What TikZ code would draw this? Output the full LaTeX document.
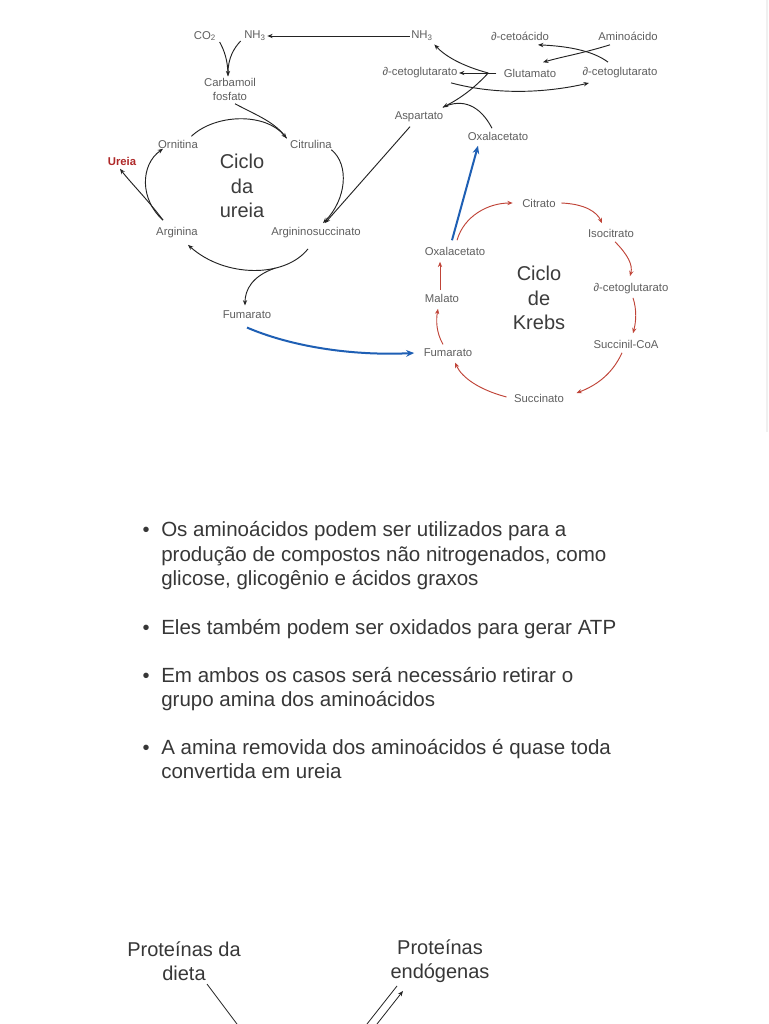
\documentclass[tikz,border=0pt]{standalone}
\usepackage{fontspec}
\setmainfont{Liberation Sans}
\usetikzlibrary{arrows.meta,calc}
\definecolor{lbl}{RGB}{95,95,95}
\definecolor{big}{RGB}{60,60,60}
\definecolor{txt}{RGB}{55,55,55}
\definecolor{krebsc}{RGB}{192,68,56}
\definecolor{blu}{RGB}{30,95,180}
\definecolor{ureac}{RGB}{175,40,40}
\definecolor{ln}{RGB}{35,35,35}
\begin{document}
\begin{tikzpicture}[x=0.75pt,y=-0.75pt,
 lab/.style={font=\fontsize{8.5}{10}\selectfont, text=lbl, inner sep=1pt},
 cyc/.style={font=\fontsize{15}{18.4}\selectfont, text=big, align=center, inner sep=0pt},
 blt/.style={font=\fontsize{15.4}{18}\selectfont, text=txt, anchor=base west, inner sep=0pt},
 bdot/.style={font=\fontsize{15}{18}\selectfont, text=txt, anchor=base, inner sep=0pt},
 bot/.style={font=\fontsize{15}{18.4}\selectfont, text=txt, align=center, inner sep=0pt},
 blk/.style={draw=ln, line width=0.7pt, -{Stealth[length=4pt,width=3.2pt]}},
 blkn/.style={draw=ln, line width=0.7pt},
 krarrow/.style={draw=krebsc, line width=0.7pt, -{Stealth[length=4pt,width=3.2pt]}},
 bluearrow/.style={draw=blu, line width=1.5pt, -{Stealth[length=6pt,width=5pt]}},
]
\fill[white] (0,0) rectangle (768,1024);
\useasboundingbox (0,0) rectangle (768,1024);
\draw[gray!12, line width=0.8pt] (767,0) -- (767,432);

% ---------- urea cycle labels ----------
\node[lab] (co2) at (205,36) {CO\textsubscript{2}};
\node[lab] (nh3l) at (255,36) {NH\textsubscript{3}};
\node[lab] (nh3r) at (422,36) {NH\textsubscript{3}};
\node[lab] (kac) at (520,36) {∂-cetoácido};
\node[lab] (amin) at (628,36) {Aminoácido};
\node[lab, align=center, font=\fontsize{8.5}{10.5}\selectfont] (carb) at (230,89) {Carbamoil\\fosfato};
\node[lab] (akgl) at (420,73) {∂-cetoglutarato};
\node[lab] (glu) at (530,73) {Glutamato};
\node[lab] (akgr) at (620,73) {∂-cetoglutarato};
\node[lab] (asp) at (419,117) {Aspartato};
\node[lab] (oxt) at (498,136) {Oxalacetato};
\node[lab] (orn) at (178,144) {Ornitina};
\node[lab] (cit) at (311,144) {Citrulina};
\node[lab, text=ureac, font={\fontsize{8.5}{10}\selectfont\bfseries}] (ure) at (122,161) {Ureia};
\node[cyc] (cu) at (242,186) {Ciclo\\da\\ureia};
\node[lab] (arg) at (177,233) {Arginina};
\node[lab] (args) at (316,233) {Argininosuccinato};
\node[lab] (fum1) at (247,315) {Fumarato};

% ---------- Krebs labels ----------
\node[lab] (citr) at (539,203) {Citrato};
\node[lab] (isoc) at (611,233) {Isocitrato};
\node[lab] (oxk) at (455,251) {Oxalacetato};
\node[cyc] (ck) at (539,298) {Ciclo\\de\\Krebs};
\node[lab] (akgk) at (631,289) {∂-cetoglutarato};
\node[lab] (mal) at (442,298) {Malato};
\node[lab] (sco) at (626,344) {Succinil-CoA};
\node[lab] (fumk) at (448,353) {Fumarato};
\node[lab] (succ) at (539,398) {Succinato};

% ---------- black connectors ----------
\draw[blk] (nh3r.west) -- (nh3l.east);
\draw[blkn] ($(co2.east)+(2,6)$) .. controls (224,50) and (228,60) .. ($(carb.north)+(-2,0)$);
\draw[blk] ($(nh3l.west)+(-2,5)$) .. controls (234,48) and (228,58) .. ($(carb.north)+(-2,0)$);
\draw[blk] ($(orn.north east)+(-8,-2)$) .. controls (215,114) and (265,112) .. ($(cit.north west)+(-2,0)$);
\draw[blkn] ($(carb.south)+(5,2)$) .. controls (258,116) and (275,122) .. ($(cit.north west)+(-2,0)$);
\draw[blk] ($(cit.south east)+(-2,0)$) .. controls (350,165) and (346,200) .. ($(args.north)+(7,-3)$);
\draw[blk] ($(asp.south)+(-9,3)$) -- ($(args.north)+(9,-3)$);
\draw[blk] ($(args.south)+(-8,9)$) .. controls (285,278) and (225,278) .. coordinate[pos=0.33] (br1) ($(arg.south)+(11,5)$);
\draw[blk] (br1) .. controls (252,276) and (245,290) .. ($(fum1.north)+(-2,-4)$);
\draw[blk] ($(arg.north)+(-14,-6)$) .. controls (140,200) and (140,165) .. ($(orn.south)+(-15,-1)$);
\draw[blk] ($(arg.north)+(-14,-6)$) .. controls (148,200) and (130,182) .. ($(ure.south)+(-2,2)$);

\coordinate (gj) at ($(glu.west)+(-14,0)$);
\draw[blk] ($(glu.west)+(-6,0)$) -- (akgl.east);
\draw[blk] (gj) .. controls (462,66) and (445,56) .. ($(nh3r.south east)+(0,2)$);
\draw[blk] (gj) .. controls (478,84) and (465,96) .. ($(asp.north east)+(-2,-3)$);
\draw[blkn] ($(oxt.north)+(-6,-2)$) .. controls (480,105) and (462,98) .. ($(asp.north east)+(-2,-3)$);
\draw[blk] ($(akgl.south east)+(-8,3)$) .. controls (500,96) and (550,92) .. ($(akgr.west)+(8,10)$);
\draw[blk] ($(amin.south)+(-18,3)$) .. controls (580,54) and (565,56) .. ($(glu.north)+(13,-5)$);
\draw[blk] ($(akgr.north)+(-12,-4)$) .. controls (592,50) and (565,46) .. ($(kac.south)+(18,3)$);

% ---------- Krebs connectors ----------
\draw[krarrow] ($(oxk.north)+(2,-5)$) .. controls (464,216) and (488,203) .. ($(citr.west)+(-8,0)$);
\draw[krarrow] ($(citr.east)+(4,0)$) .. controls (585,204) and (597,212) .. ($(isoc.north)+(-9,-4)$);
\draw[krarrow] ($(isoc.south)+(4,3)$) .. controls (628,255) and (633,265) .. ($(akgk.north)+(-1,-6)$);
\draw[krarrow] ($(akgk.south)+(2,2)$) .. controls (637,310) and (636,322) .. ($(sco.north)+(7,-5)$);
\draw[krarrow] ($(sco.south)+(-4,3)$) .. controls (612,375) and (595,386) .. ($(succ.east)+(11,-5)$);
\draw[krarrow] ($(succ.west)+(-6,-1)$) .. controls (480,390) and (462,378) .. ($(fumk.south)+(7,4)$);
\draw[krarrow] ($(fumk.north)+(-5,-3)$) .. controls (436,332) and (436,320) .. ($(mal.south)+(-4,5)$);
\draw[krarrow] ($(mal.north)+(-2,-2)$) -- ($(oxk.south)+(-15,5)$);

% ---------- blue connectors ----------
\draw[bluearrow] ($(oxk.north)+(-3,-5)$) -- ($(oxt.south)+(-20,4)$);
\draw[bluearrow] ($(fum1.south)+(0,7)$) .. controls (290,346) and (350,356) .. ($(fumk.west)+(-8,0)$);

% ---------- bullets ----------
\node[bdot] (d1) at (146,536) {•};
\node[blt] (b1a) at (161,536) {Os aminoácidos podem ser utilizados para a};
\node[blt] (b1b) at (161,561) {produção de compostos não nitrogenados, como};
\node[blt] (b1c) at (161,585) {glicose, glicogênio e ácidos graxos};
\node[bdot] (d2) at (146,634) {•};
\node[blt] (b2a) at (161,634) {Eles também podem ser oxidados para gerar ATP};
\node[bdot] (d3) at (146,682) {•};
\node[blt] (b3a) at (161,682) {Em ambos os casos será necessário retirar o};
\node[blt] (b3b) at (161,706) {grupo amina dos aminoácidos};
\node[bdot] (d4) at (146,754) {•};
\node[blt] (b4a) at (161,754) {A amina removida dos aminoácidos é quase toda};
\node[blt] (b4b) at (161,778) {convertida em ureia};

% ---------- bottom ----------
\node[bot] (pd) at (184,961) {Proteínas da\\dieta};
\node[bot] (pe) at (440,961) {Proteínas\\endógenas};
\coordinate (l1) at (237,1024);
\coordinate (r1) at (367,1024);
\coordinate (r2) at (377,1024);
\draw[blkn, line width=0.6pt] ($(pd.south)+(23,3)$) -- (l1);
\draw[blkn, line width=0.6pt] ($(pe.south)+(-43,3)$) -- (r1);
\draw[blk, line width=0.6pt] (r2) -- ($(pe.south)+(-37,8)$);
\end{tikzpicture}
\end{document}
